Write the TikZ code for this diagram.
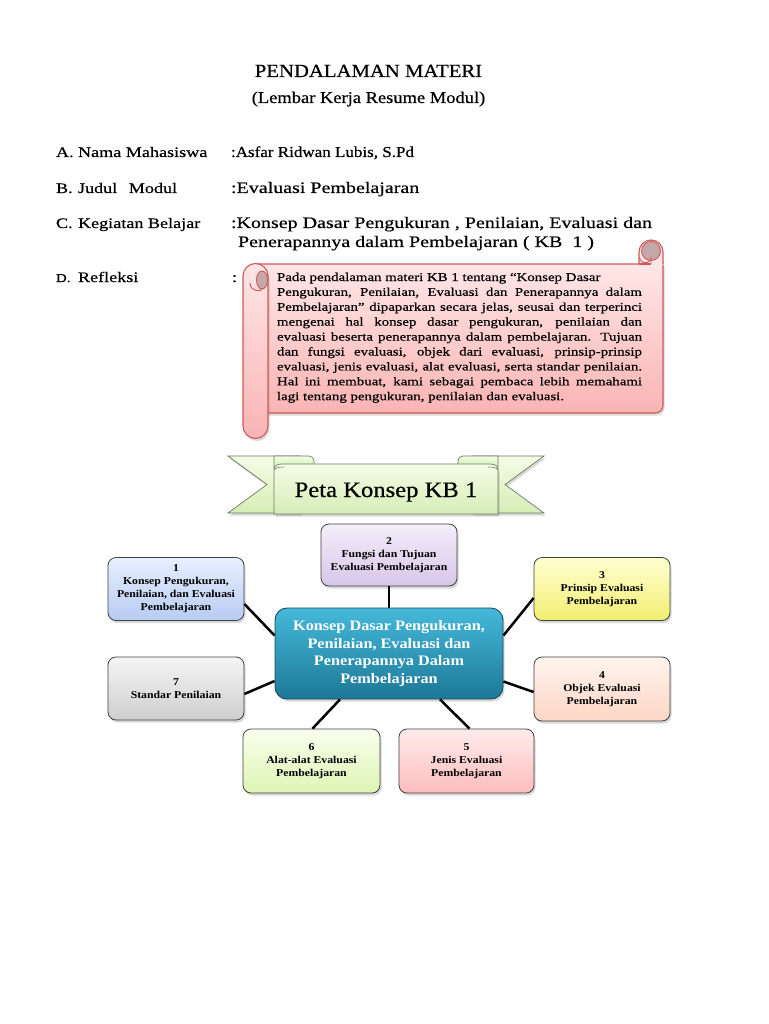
\documentclass[tikz,border=0pt]{standalone}
\usepackage{fontspec}
\setmainfont{Liberation Serif}
\newfontfamily\fa[FakeStretch=1.12, FakeBold=0.5]{Liberation Serif}
\newfontfamily\fb[FakeStretch=1.25, FakeBold=0.5]{Liberation Serif}
\newfontfamily\fc[FakeStretch=1.12]{Liberation Serif}
\usetikzlibrary{shadows}
\newcommand\myfs[2]{\fontsize{#1}{#2}\selectfont}
\definecolor{scrtop}{HTML}{FFE6E6}
\definecolor{scrbot}{HTML}{FAB4B4}
\definecolor{scrline}{HTML}{CC5A58}
\definecolor{scrgrey}{HTML}{C4A8A9}
\definecolor{ribtop}{HTML}{F3FDE6}
\definecolor{ribbot}{HTML}{D6EDB6}
\definecolor{ribline}{HTML}{6E7A62}
\definecolor{cttop}{HTML}{45B9DA}
\definecolor{ctbot}{HTML}{1D7896}
\definecolor{ctline}{HTML}{1A4C5E}
\tikzset{
  txt/.style={anchor=base west, inner sep=0pt, outer sep=0pt},
  lbl/.style={txt, font=\fb\myfs{14.5}{17}},
  val/.style={txt, font=\fb\myfs{16}{19}},
  para/.style={txt, font=\fb\myfs{11.9}{14}},
  shd/.style={drop shadow={opacity=0.3, shadow xshift=1.5pt, shadow yshift=-2.5pt}},
  scr/.style={draw=scrline, line width=1.1pt, top color=scrtop, bottom color=scrbot},
  rib/.style={draw=ribline, line width=0.7pt, top color=ribtop, bottom color=ribbot},
  cbox/.style={draw=black!75, line width=0.8pt, rounded corners=8pt,
    minimum width=136pt, minimum height=63pt, inner sep=2pt, align=center,
    font=\fc\bfseries\myfs{10.5}{13}, shd},
  conn/.style={line width=2.5pt, black},
}
\begin{document}
\begin{tikzpicture}[x=1pt,y=-1pt]
\fill[white] (0,0) rectangle (768,1024);
\useasboundingbox (0,0) rectangle (768,1024);

% ---- heading
\node[txt, anchor=base, font=\fa\myfs{18.5}{21}] (title) at (368.5,77) {PENDALAMAN MATERI};
\node[txt, anchor=base, font=\fa\myfs{16.5}{19}] (subtitle) at (368.5,103) {(Lembar Kerja Resume Modul)};

% ---- identity rows
\node[lbl] (la) at (56,157) {A.};
\node[lbl] (lA) at (78,157) {Nama Mahasiswa};
\node[txt, font=\fa\myfs{15.2}{18}] (vA) at (231,157) {:Asfar Ridwan Lubis, S.Pd};
\node[lbl] (lb) at (56,193) {B.};
\node[lbl] (lB) at (78,193) {Judul\hspace{7pt} Modul};
\node[val] (vB) at (231,193) {:Evaluasi Pembelajaran};
\node[lbl] (lc) at (56,228) {C.};
\node[lbl] (lC) at (78,228) {Kegiatan Belajar};
\node[val] (vC) at (231,228) {:Konsep Dasar Pengukuran , Penilaian, Evaluasi dan};
\node[val] (vC2) at (238,247) {Penerapannya dalam Pembelajaran ( KB\ \ 1 )};
\node[txt, font=\fb\myfs{12}{14}] (ld) at (56,282) {D.};
\node[lbl] (lD) at (78,282) {Refleksi};
\node[lbl] (colD) at (232,282) {:};

% ---- scroll
\draw[scr, shd] (256,264) -- (663,264) [rounded corners=8pt] -- (663,413) -- (256,413) [sharp corners] -- cycle;
% right curl
\fill[scrtop] (639,265) -- (639,252) arc[start angle=180, end angle=360, radius=12] -- (663,265) -- cycle;
\draw[scrline, line width=1.1pt] (639,264) -- (639,252) arc[start angle=180, end angle=360, radius=12] -- (663,264);
\draw[scrline, line width=0.9pt, fill=scrgrey] (651,251) circle[radius=9.5];
\draw[scrline, line width=0.9pt, fill=scrtop] (639.5,257) arc[start angle=180, end angle=0, radius=5.75] -- (651,264);
\draw[scrline, line width=1.1pt] (639,264) -- (651,264);
% left tube
\draw[scr, shd] (243,276) arc[start angle=180, end angle=360, radius=12.5] -- (268,426) arc[start angle=0, end angle=180, radius=12.5] -- cycle;
\draw[scrline, line width=0.9pt, fill=scrgrey] (262,280) ellipse[x radius=5.5, y radius=9];
\draw[scrline, line width=0.9pt] (250,283) .. controls (250,292) and (262,292) .. (262,289);

% paragraph
\node[para] (p1) at (277,281) {Pada pendalaman materi KB 1 tentang “Konsep Dasar};
\node[para] (p2) at (277,295.9) {\makebox[365pt][s]{Pengukuran, Penilaian, Evaluasi dan Penerapannya dalam}};
\node[para] (p3) at (277,310.8) {\makebox[365pt][s]{Pembelajaran” dipaparkan secara jelas, seusai dan terperinci}};
\node[para] (p4) at (277,325.7) {\makebox[365pt][s]{mengenai hal konsep dasar pengukuran, penilaian dan}};
\node[para] (p5) at (277,340.6) {\makebox[365pt][s]{evaluasi beserta penerapannya dalam pembelajaran. Tujuan}};
\node[para] (p6) at (277,355.5) {\makebox[365pt][s]{dan fungsi evaluasi, objek dari evaluasi, prinsip-prinsip}};
\node[para] (p7) at (277,370.4) {\makebox[365pt][s]{evaluasi, jenis evaluasi, alat evaluasi, serta standar penilaian.}};
\node[para] (p8) at (277,385.3) {\makebox[365pt][s]{Hal ini membuat, kami sebagai pembaca lebih memahami}};
\node[para] (p9) at (277,400.2) {lagi tentang pengukuran, penilaian dan evaluasi.};

% ---- ribbon
\draw[rib, shd] (228,456) -- (300,456) -- (300,513) -- (228,513) -- (267,484.5) -- cycle;
\draw[rib, shd] (544,456) -- (472,456) -- (472,513) -- (544,513) -- (505,484.5) -- cycle;
\draw[rib] (274,456) -- (309,456) .. controls (312,456) and (314,458) .. (314,461) -- (314,468) -- (274,468) -- cycle;
\draw[rib] (498,456) -- (463,456) .. controls (460,456) and (458,458) .. (458,461) -- (458,468) -- (498,468) -- cycle;
\draw[rib, shd] (274,470) .. controls (274,466) and (277,464) .. (282,464) -- (490,464) .. controls (495,464) and (498,466) .. (498,470) -- (498,514) -- (274,514) -- cycle;
\draw[ribline, line width=0.6pt] (274,470) .. controls (275,468) and (278,467) .. (284,467);
\draw[ribline, line width=0.6pt] (498,470) .. controls (497,468) and (494,467) .. (488,467);
\node[txt, anchor=base, font=\fa\myfs{22}{24}] (ribtext) at (386,497) {Peta Konsep KB 1};

% ---- concept map
\node[draw=ctline, line width=0.9pt, rounded corners=12pt, top color=cttop, bottom color=ctbot,
  text=white, minimum width=228pt, minimum height=91pt, align=center, inner sep=2pt,
  font=\fc\bfseries\myfs{14.5}{17.7}, shd] (c) at (389,653.5)
  {Konsep Dasar Pengukuran,\\Penilaian, Evaluasi dan\\Penerapannya Dalam\\Pembelajaran};
\node[cbox, top color={rgb,255:red,232;green,239;blue,255}, bottom color={rgb,255:red,183;green,204;blue,242}] (n1) at (176,589)
  {1\\Konsep Pengukuran,\\Penilaian, dan Evaluasi\\Pembelajaran};
\node[cbox, minimum height=62pt, top color={rgb,255:red,244;green,238;blue,250}, bottom color={rgb,255:red,214;green,198;blue,232}] (n2) at (389,555)
  {2\\Fungsi dan Tujuan\\Evaluasi Pembelajaran};
\node[cbox, top color={rgb,255:red,255;green,255;blue,210}, bottom color={rgb,255:red,242;green,238;blue,112}] (n3) at (602,589)
  {3\\Prinsip Evaluasi\\Pembelajaran};
\node[cbox, minimum height=64pt, top color={rgb,255:red,255;green,244;blue,238}, bottom color={rgb,255:red,252;green,214;blue,196}] (n4) at (602,689)
  {4\\Objek Evaluasi\\Pembelajaran};
\node[cbox, minimum width=135pt, minimum height=64pt, top color={rgb,255:red,255;green,236;blue,236}, bottom color={rgb,255:red,253;green,188;blue,188}] (n5) at (466.5,761)
  {5\\Jenis Evaluasi\\Pembelajaran};
\node[cbox, minimum width=137pt, minimum height=64pt, top color={rgb,255:red,250;green,255;blue,238}, bottom color={rgb,255:red,221;green,245;blue,179}] (n6) at (311.5,761)
  {6\\Alat-alat Evaluasi\\Pembelajaran};
\node[cbox, top color={rgb,255:red,245;green,245;blue,245}, bottom color={rgb,255:red,206;green,206;blue,206}] (n7) at (176,688.5)
  {7\\Standar Penilaian};

\draw[conn] (c.north) -- (n2.south);
\draw[conn] ([yshift=-15pt]n1.east) -- ([yshift=18pt]c.west);
\draw[conn] ([yshift=-9pt]n3.west) -- ([yshift=18pt]c.east);
\draw[conn] ([yshift=-5.5pt]n7.east) -- ([yshift=-27.5pt]c.west);
\draw[conn] ([yshift=-3pt]n4.west) -- ([yshift=-28pt]c.east);
\draw[conn] ([xshift=1pt]n6.north) -- ([xshift=-49pt]c.south);
\draw[conn] ([xshift=3pt]n5.north) -- ([xshift=51pt]c.south);
\end{tikzpicture}
\end{document}
